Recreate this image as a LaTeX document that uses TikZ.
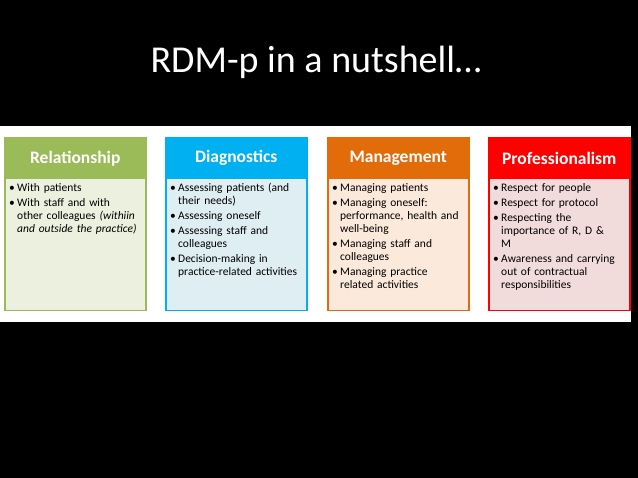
\documentclass[tikz,border=0pt]{standalone}
\usepackage{fontspec}
\setmainfont{Carlito}
\newcommand{\bul}[1]{\hyphenpenalty=10000\exhyphenpenalty=10000\hangindent=9pt\hangafter=1\noindent\makebox[9pt][l]{\hspace{1pt}\textbullet}#1\par\vspace{2pt}}
\definecolor{gH}{HTML}{9BBB59}\definecolor{gB}{HTML}{EBF1DE}
\definecolor{bH}{HTML}{00B0F0}\definecolor{bB}{HTML}{DEEEF3}
\definecolor{oH}{HTML}{E36C0A}\definecolor{oB}{HTML}{FBE9DB}
\definecolor{rH}{HTML}{FF0000}\definecolor{rB}{HTML}{F2DCDB}
\tikzset{
 hdr/.style={anchor=north west,minimum width=141pt,minimum height=41pt,inner sep=0pt,text=white,font=\fontsize{17.5}{20}\selectfont\bfseries},
 bdy/.style={anchor=north west,minimum width=141pt,minimum height=132pt,inner sep=0pt,line width=1.5pt},
 txt/.style={anchor=north west,text width=129pt,inner sep=0pt,align=left,font=\fontsize{11.5}{13}\selectfont}
}
\begin{document}
\begin{tikzpicture}[x=1pt,y=1pt]
\fill[black] (0,0) rectangle (638,478);
\useasboundingbox (0,0) rectangle (638,478);
\fill[white] (0,478-126) rectangle (631,478-322);
\node[text=white,font=\fontsize{38}{42}\selectfont] (title) at (316,478-62) {RDM-p in a nutshell…};
\foreach \x/\c/\n/\t in {4/g/rel/Relationship,165/b/dia/Diagnostics,327/o/man/Management,488/r/pro/Professionalism}{
 \node[bdy,draw=\c H,fill=\c B] (\n b) at (\x,478-178) {};
 \node[hdr,fill=\c H,draw=\c H,line width=1.5pt] (\n h) at (\x,478-137) {\t};
}
\node[txt] (relt) at (8,478-183) {\bul{With patients}\bul{With staff and with other colleagues \textit{(withiin and outside the practice)}}};
\node[txt] (diat) at (169,478-183) {\bul{Assessing patients (and their needs)}\bul{Assessing oneself}\bul{Assessing staff and colleagues}\bul{Decision-making in practice-related activities}};
\node[txt] (mant) at (331,478-183) {\bul{Managing patients}\bul{Managing oneself: performance, health and well-being}\bul{Managing staff and colleagues}\bul{Managing practice related activities}};
\node[txt] (prot) at (492,478-183) {\bul{Respect for people}\bul{Respect for protocol}\bul{Respecting the importance of R, D \& M}\bul{Awareness and carrying out of contractual responsibilities}};
\end{tikzpicture}
\end{document}
